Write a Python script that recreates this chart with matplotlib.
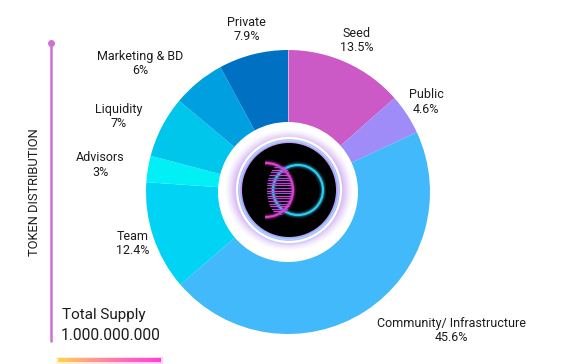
import numpy as np
import matplotlib.pyplot as plt
from matplotlib.patches import Circle, Ellipse, Arc
from matplotlib.colors import LinearSegmentedColormap

# datos del grafico
categorias = ['Seed', 'Public', 'Community/ Infrastructure', 'Team',
              'Advisors', 'Liquidity', 'Marketing & BD', 'Private']
porcentajes = [13.5, 4.6, 45.6, 12.4, 3, 7, 6, 7.9]
etiquetas_pct = ['13.5%', '4.6%', '45.6%', '12.4%', '3%', '7%', '6%', '7.9%']
total_supply = '1.000.000.000'

colores = ['#CB5AC6', '#A08CF8', '#42B9FA', '#00D3F4',
           '#00F0F6', '#00C6EC', '#00A0E0', '#0070C2']

# colocacion de las etiquetas (distancia relativa al radio, alineacion)
dist_etq = [1.17, 1.16, 1.16, 1.155, 1.164, 1.158, 1.168, 1.18]
alin_etq = ['center', 'center', 'left', 'center', 'right', 'right', 'right', 'center']

plt.rcParams['font.family'] = ['Roboto', 'DejaVu Sans']

W, H = 565, 364
fig = plt.figure(figsize=(W / 100, H / 100), dpi=100)
ax = fig.add_axes([0, 0, 1, 1])

cx, cy, r = 288, H - 192, 142
wedges, _ = ax.pie(porcentajes, colors=colores, startangle=90, counterclock=False,
                   center=(cx, cy), radius=r, frame=True,
                   wedgeprops=dict(width=r - 70, edgecolor='none', linewidth=0))
# linea fina entre Private y Seed
ax.plot([cx, cx], [cy + 70, cy + r], color='white', lw=0.5, alpha=0.7)

for w, cat, pct, d, ha in zip(wedges, categorias, etiquetas_pct, dist_etq, alin_etq):
    ang = np.deg2rad((w.theta1 + w.theta2) / 2)
    x = cx + r * d * np.cos(ang)
    y = cy + r * d * np.sin(ang)
    ax.text(x, y, f'{cat}\n{pct}', ha=ha, va='center', multialignment='center',
            fontsize=9, color='#1c1c1c', linespacing=1.15)

# logo central
lx, ly = 289, H - 190
for i, rr in enumerate(np.linspace(62, 48, 12)):
    ax.add_patch(Ellipse((lx, ly), rr * 2.05, rr * 1.95, color='#b070f0',
                         alpha=0.03 + i * 0.012, lw=0))
ax.add_patch(Ellipse((lx, ly - 10), 96, 90, color='#60c0ff', alpha=0.15, lw=0))
ax.add_patch(Circle((lx, ly), 52, fill=False, ec='white', lw=1.6))
ax.add_patch(Circle((lx, ly), 49.5, fill=False, ec='#9adcff', lw=1.0))
ax.add_patch(Circle((lx, ly), 47, color='black', lw=0))

# anillo cian
for lw_, a in [(5, 0.15), (3, 0.3), (1.6, 1)]:
    ax.add_patch(Circle((lx + 9, ly), 25, fill=False, ec='#2ec8f0', lw=lw_, alpha=a))
# rayas magenta
clip = Ellipse((lx - 9, ly), 26, 50, transform=ax.transData)
for k, yy in enumerate(np.arange(ly - 24, ly + 25, 2.6)):
    ln, = ax.plot([lx - 24, lx + 6], [yy, yy], color='#e040c8' if k % 2 else '#9050e0',
                  lw=0.9)
    ln.set_clip_path(clip)
for lw_, a in [(5, 0.15), (3, 0.3), (1.6, 1)]:
    ax.add_patch(Arc((lx - 23, ly), 54, 54, theta1=-92, theta2=92,
                     ec='#e040d0', lw=lw_, alpha=a))

# linea vertical izquierda
ax.plot([51, 51], [H - 43, H - 342], color='#D26FD6', lw=1.8, solid_capstyle='butt')
ax.plot([51], [H - 43], marker='o', ms=4, color='#D26FD6')
ax.text(35, H - 192, 'TOKEN DISTRIBUTION', rotation=90, ha='center', va='center',
        fontsize=9.3, color='#1c1c1c')

ax.text(62, H - 315, 'Total Supply', ha='left', va='center', fontsize=11, color='#1c1c1c')
ax.text(61, H - 336, total_supply, ha='left', va='center', fontsize=11.2, color='#1c1c1c')

# barra degradada
cmap = LinearSegmentedColormap.from_list('grad', ['#FFD34A', '#FF7FA8', '#FF3FD6'])
grad = np.linspace(0, 1, 200).reshape(1, -1)
ax.imshow(grad, cmap=cmap, extent=(56, 163, H - 364, H - 357), aspect='auto', alpha=0.25,
          zorder=2)
ax.imshow(grad, cmap=cmap, extent=(58, 161, H - 362.5, H - 358.5), aspect='auto', zorder=3)

ax.set_xlim(0, W)
ax.set_ylim(0, H)
ax.set_aspect('equal')
ax.axis('off')

plt.savefig('out.png', dpi=100)
